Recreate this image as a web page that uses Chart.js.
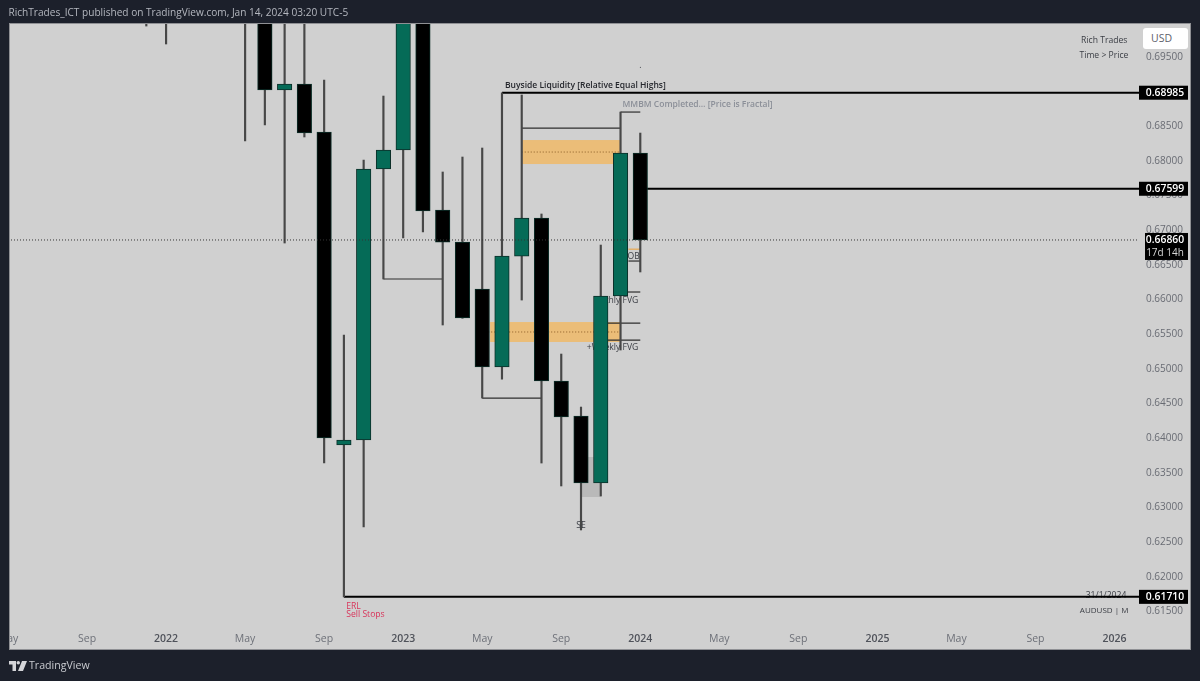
<!DOCTYPE html>
<html>
<head>
<meta charset="utf-8">
<title>AUDUSD M</title>
<script src="https://cdn.jsdelivr.net/npm/chart.js@4"></script>
<style>
    html, body { margin: 0; padding: 0; background: #1c202b; overflow: hidden; }
    #wrap { position: relative; width: 1200px; height: 681px; }
    canvas { position: absolute; left: 0; top: 0; }
    .head { position: absolute; left: 8.5px; top: 5px; font: 10.1px "Open Sans", sans-serif; color: #b4b7bf; white-space: nowrap; }
    .foot { position: absolute; left: 29px; top: 658px; font: 10.6px "Open Sans", sans-serif; color: #c9cbd0; white-space: nowrap; }
    .logo { position: absolute; left: 9px; top: 661px; }
    .usd { position: absolute; left: 1143px; top: 28px; width: 45px; height: 21px; border-radius: 3px; background: #fff;
           font: 10.5px/21px "Open Sans", sans-serif; color: #5d606b; text-indent: 8px; }
</style>
</head>
<body>
<div id="wrap">
    <canvas id="chart" width="1200" height="681"></canvas>
    <div class="head">RichTrades_ICT published on TradingView.com, Jan 14, 2024 03:20 UTC-5</div>
    <svg class="logo" width="18" height="10" viewBox="0 0 36 20"><path fill="#d4d5d9" d="M0 0h14v20H7V7H0zM26 0h10l-8 20H18zM15 3.500a3.500 3.500 0 1 0 7 0a3.500 3.500 0 1 0-7 0z"/></svg>
    <div class="foot">TradingView</div>
    <div class="usd">USD</div>
</div>
<script>
// months counted from Jan 2022
const months = [-1, 0, 1, 2, 3, 4, 5, 6, 7, 8, 9, 10, 11, 12, 13, 14, 15, 16, 17, 18, 19, 20, 21, 22, 23, 24];
const opens  = [.7110, .7265, .7064, .7180, .7480, .7063, .7175, .69024, .69110, .68418, .63901, .63973, .67884, .68158, .7050, .67292, .66830, .66152, .65027, .66628, .67177, .64825, .64320, .63353, .66051, .68115];
const closes = [.7265, .7064, .7180, .7480, .7063, .7175, .69024, .69110, .68403, .64002, .63973, .67884, .68158, .7050, .67278, .66830, .65734, .65027, .66628, .67177, .64825, .64305, .63353, .66051, .68115, .66860];
const highs  = [.7290, .7315, .7285, .7660, .7480, .7280, .7282, .7034, .7136, .69168, .65488, .68014, .68937, .7158, .7158, .67841, .68057, .68187, .68985, .68952, .67235, .65214, .64449, .66787, .68706, .68403];
const lows   = [.69947, .69688, .7033, .7165, .7030, .68288, .68519, .66816, .68346, .63641, .61710, .62718, .66297, .66888, .66975, .65633, .65730, .64579, .64853, .65993, .63641, .63310, .62675, .63165, .65272, .66398];

const yTicksMin = 0.61275, yTicksMax = 0.69991;
const xMin = -8, xMax = 49.24;
const monthNames = { 0: 'Jan', 4: 'May', 8: 'Sep' };

// horizontal levels: from month, to month, price
const heavyLines = [[17, xMax, .68985], [24, xMax, .67599], [9, xMax, .61710]];
const thinLines = [[18, 23, .68475], [23, 24, .68706], [11, 14, .66297], [16, 19, .64579],
                   [23, 24, .66109], [22, 24, .65661], [22, 24, .65416], [23.4, 24, .66556]];
const dottedLines = [[18, 23, .68129], [16, 23, .65532]];
const lastPrice = 0.6686;
const orangeTick = [23.4, 24, .66727];

// shaded zones: from month, to month, price top, price bottom
const orangeZones = [[18, 23, .68302, .67956], [16.4, 23, .65676, .65388]];
const greyZones = [[21, 22, .63728, .63151]];

const priceTags = [['0.68985', .68985], ['0.67599', .67599], ['0.61710', .61710]];

// chart notes: text, month, price, align, colour, font
const boldFont = '600 8.5px "Open Sans", sans-serif';
const noteFont = '8.6px "Open Sans", sans-serif';
const smallFont = '8px "Open Sans", sans-serif';
const behindNotes = [
    ['Mthly FVG', 23.9, .65990, 'right', '#3a3d44', noteFont],
    ['+Weekly FVG', 23.9, .65310, 'right', '#3a3d44', noteFont],
    ['OB', 23.35, .66620, 'left', '#3a3d44', noteFont],
    ['31/1/2024', 48.6, .61725, 'right', '#3a3d44', noteFont]
];
const frontNotes = [
    ['Buyside Liquidity [Relative Equal Highs]', 17.15, .69085, 'left', '#25272d', boldFont],
    ['MMBM Completed… [Price is Fractal]', 23.1, .68810, 'left', '#8b8f98', boldFont],
    ['.', 24, .69370, 'center', '#3a3d44', noteFont],
    ['ERL', 9.12, .61565, 'left', '#d8345a', noteFont],
    ['Sell Stops', 9.12, .61450, 'left', '#d8345a', noteFont],
    ['SE', 21, .62745, 'center', '#3a3d44', noteFont],
    ['Rich Trades', 48.65, .69740, 'right', '#3a3d44', noteFont],
    ['Time > Price', 48.7, .69525, 'right', '#3a3d44', noteFont],
    ['AUDUSD | M', 48.7, .61510, 'right', '#3a3d44', smallFont]
];

const upColor = '#056b57', downColor = '#000000';
const panelColor = '#d0d0d0', frameColor = '#1c202b';

function lineSet(seg, color, width, dash) {
    return {
        type: 'line',
        data: [{ x: seg[0], y: seg[2] }, { x: seg[1], y: seg[2] }],
        borderColor: color,
        borderWidth: width,
        borderDash: dash || [],
        pointRadius: 0,
        order: 5
    };
}

const datasets = [
    {
        label: 'wicks',
        data: months.map((m, i) => ({ x: m, y: [lows[i], highs[i]] })),
        backgroundColor: '#474747',
        barThickness: 1.5,
        grouped: false,
        order: 3
    },
    {
        label: 'bodies',
        data: months.map((m, i) => ({ x: m, y: [opens[i], closes[i]] })),
        backgroundColor: months.map((m, i) => closes[i] >= opens[i] ? upColor : downColor),
        borderColor: '#0c2e28',
        borderWidth: 1,
        borderSkipped: false,
        barThickness: 14.5,
        grouped: false,
        order: 2
    },
    ...heavyLines.map(s => lineSet(s, '#000000', 2)),
    ...thinLines.map(s => lineSet(s, '#2e2e2e', 1.2)),
    ...dottedLines.map(s => lineSet(s, '#8a5c25', 1, [1, 2])),
    lineSet(orangeTick, '#e8a84f', 1.2),
    Object.assign(lineSet([xMin, xMax, lastPrice], '#333333', 1, [1, 2]), { order: 1 })
];

function drawNote(ctx, chart, n) {
    ctx.font = n[5];
    ctx.fillStyle = n[4];
    ctx.textAlign = n[3];
    ctx.textBaseline = 'middle';
    ctx.fillText(n[0], chart.scales.x.getPixelForValue(n[1]), chart.scales.y.getPixelForValue(n[2]));
}

const isYear = ctx => !!ctx.tick && ctx.tick.value % 12 === 0;

const chartDecor = {
    id: 'chartDecor',
    beforeDraw(chart) {
        const ctx = chart.ctx;
        ctx.save();
        ctx.fillStyle = panelColor;
        ctx.fillRect(9, 23, 1182, 627);
        ctx.restore();
    },
    beforeDatasetsDraw(chart) {
        const ctx = chart.ctx, x = chart.scales.x, y = chart.scales.y;
        ctx.save();
        const rect = (z, color) => {
            ctx.fillStyle = color;
            ctx.fillRect(x.getPixelForValue(z[0]), y.getPixelForValue(z[2]),
                x.getPixelForValue(z[1]) - x.getPixelForValue(z[0]),
                y.getPixelForValue(z[3]) - y.getPixelForValue(z[2]));
        };
        orangeZones.forEach(z => rect(z, '#ebbd78'));
        greyZones.forEach(z => rect(z, '#b9b9b9'));
        behindNotes.forEach(n => drawNote(ctx, chart, n));
        ctx.restore();
    },
    afterDraw(chart) {
        const ctx = chart.ctx, y = chart.scales.y, left = chart.chartArea.right;
        ctx.save();
        frontNotes.forEach(n => drawNote(ctx, chart, n));

        // price tags on the axis
        ctx.textAlign = 'center';
        ctx.textBaseline = 'middle';
        priceTags.forEach(t => {
            const py = y.getPixelForValue(t[1]);
            ctx.fillStyle = '#000';
            ctx.fillRect(left, py - 7, 49, 14);
            ctx.fillStyle = '#fff';
            ctx.font = '600 10.4px "Open Sans", sans-serif';
            ctx.fillText(t[0], left + 26, py + 0.5);
        });
        const lp = y.getPixelForValue(lastPrice);
        ctx.fillStyle = '#000';
        ctx.fillRect(left + 6, lp - 7, 43, 27);
        ctx.fillStyle = '#fff';
        ctx.font = '600 10.4px "Open Sans", sans-serif';
        ctx.fillText('0.66860', left + 26, lp + 0.5);
        ctx.fillStyle = '#d8d8d8';
        ctx.font = '10px "Open Sans", sans-serif';
        ctx.fillText('17d 14h', left + 26, lp + 13);

        // dark frame and panel edge on top, this also cuts the first month label
        ctx.fillStyle = frameColor;
        ctx.fillRect(0, 0, 9, 681);
        ctx.fillRect(1191, 0, 9, 681);
        ctx.fillRect(0, 0, 1200, 23);
        ctx.fillRect(0, 650, 1200, 31);
        ctx.strokeStyle = '#8f9094';
        ctx.lineWidth = 1;
        ctx.strokeRect(9.5, 23.5, 1181, 626);
        ctx.restore();
    }
};

new Chart(document.getElementById('chart').getContext('2d'), {
    type: 'bar',
    data: { datasets: datasets },
    plugins: [chartDecor],
    options: {
        responsive: false,
        animation: false,
        layout: { padding: { left: 8, top: 23, right: 9, bottom: 31 } },
        plugins: { legend: { display: false }, tooltip: { enabled: false } },
        scales: {
            x: {
                type: 'linear',
                offset: false,
                min: xMin,
                max: xMax,
                grid: { display: false, drawTicks: false },
                border: { display: false },
                afterFit: s => { s.height = 23; s.paddingLeft = 0; s.paddingRight = 0; },
                ticks: {
                    stepSize: 4,
                    autoSkip: false,
                    maxRotation: 0,
                    includeBounds: false,
                    padding: 6,
                    color: ctx => isYear(ctx) ? '#4f525a' : '#6d7078',
                    font: ctx => ({ family: '"Open Sans", sans-serif', size: 10.5, weight: isYear(ctx) ? '600' : '400' }),
                    callback: v => {
                        const m = ((v % 12) + 12) % 12;
                        return m === 0 ? String(2022 + v / 12) : monthNames[m];
                    }
                }
            },
            y: {
                position: 'right',
                min: yTicksMin,
                max: yTicksMax,
                grid: { display: false, drawTicks: false },
                border: { display: false },
                afterFit: s => { s.width = 52; s.paddingTop = 0; s.paddingBottom = 0; },
                ticks: {
                    stepSize: 0.005,
                    includeBounds: false,
                    autoSkip: false,
                    padding: 7,
                    color: '#686b73',
                    font: { family: '"Open Sans", sans-serif', size: 10 },
                    callback: v => v.toFixed(5)
                }
            }
        }
    }
});
</script>
</body>
</html>
